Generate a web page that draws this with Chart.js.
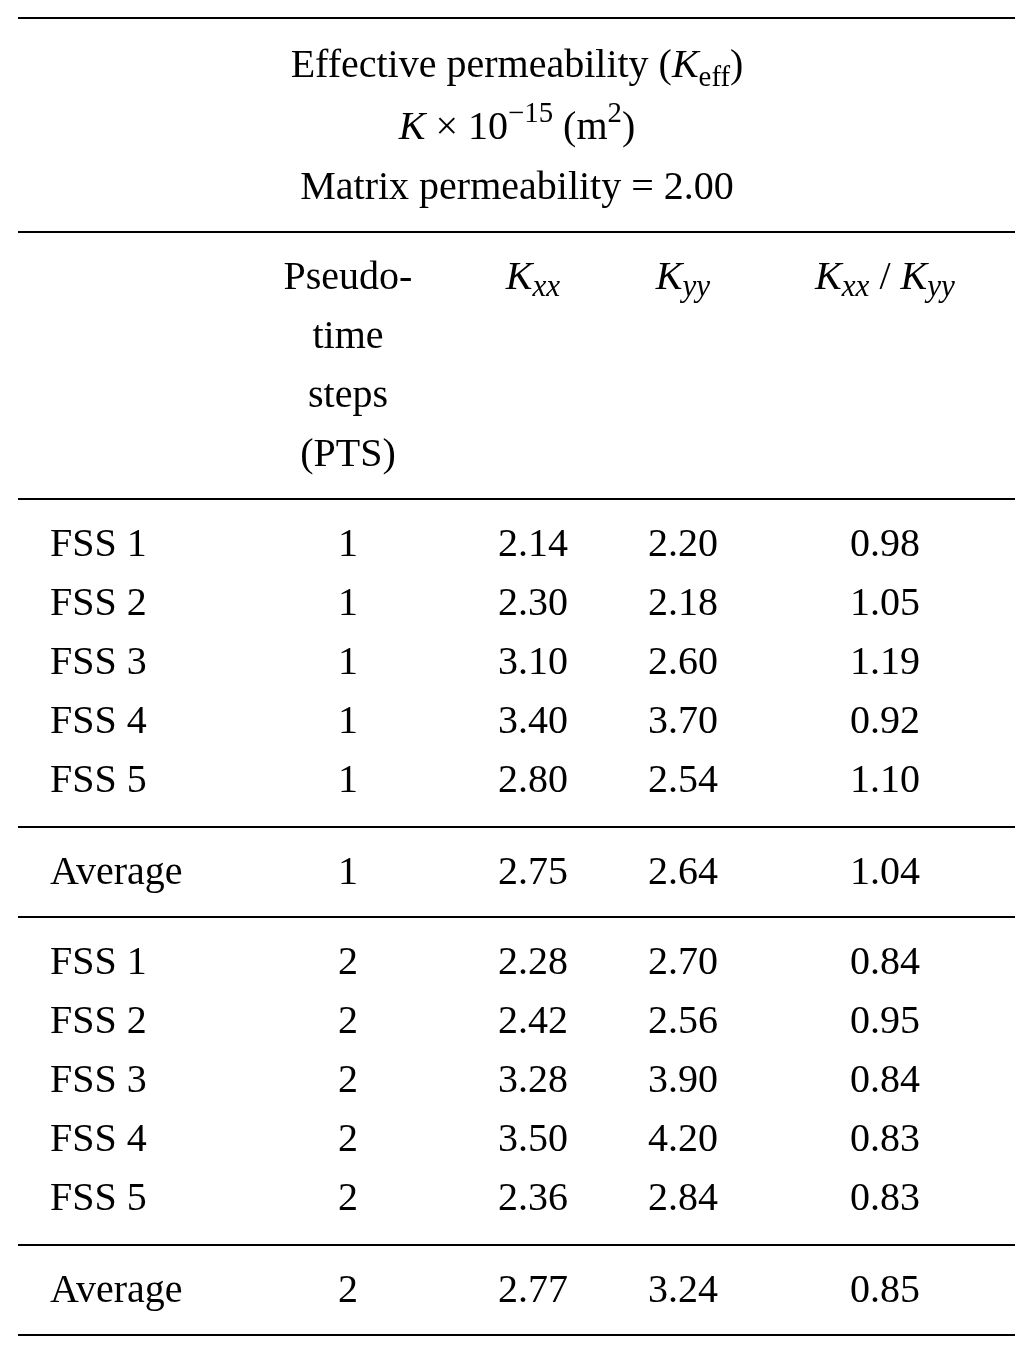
<!DOCTYPE html>
<html><head><meta charset="utf-8">
<script src="https://cdn.jsdelivr.net/npm/chart.js@4"></script>
<style>html,body{margin:0;padding:0;background:#fff}canvas{display:block}</style>
</head><body>
<canvas id="c" width="1033" height="1355"></canvas>
<script>
const rowLabels = ["FSS 1","FSS 2","FSS 3","FSS 4","FSS 5","Average","FSS 1","FSS 2","FSS 3","FSS 4","FSS 5","Average"];
const ptsValues = ["1","1","1","1","1","1","2","2","2","2","2","2"];
const kxxValues = ["2.14","2.30","3.10","3.40","2.80","2.75","2.28","2.42","3.28","3.50","2.36","2.77"];
const kyyValues = ["2.20","2.18","2.60","3.70","2.54","2.64","2.70","2.56","3.90","4.20","2.84","3.24"];
const ratioValues = ["0.98","1.05","1.19","0.92","1.10","1.04","0.84","0.95","0.84","0.83","0.83","0.85"];
const ptsHeader = ["Pseudo-","time","steps","(PTS)"];

const F = "'Liberation Serif','DejaVu Serif',serif";
const SZ = 40;
function fontFor(s){
  if(s==='i') return `italic ${SZ}px ${F}`;
  if(s==='isub') return `italic ${SZ*0.78}px ${F}`;
  if(s==='sub'||s==='sup') return `${SZ*0.72}px ${F}`;
  return `${SZ}px ${F}`;
}
function offFor(s){ return s==='sub'?9:(s==='isub'?7:(s==='sup'?-17:0)); }
function drawSegs(ctx, segs, x, y, align){
  let w=0; segs.forEach(([t,s])=>{ctx.font=fontFor(s); w+=ctx.measureText(t).width;});
  let cx = align==='center'? x-w/2 : x;
  segs.forEach(([t,s])=>{ctx.font=fontFor(s); ctx.textAlign='left'; ctx.fillText(t,cx,y+offFor(s)); cx+=ctx.measureText(t).width;});
}

const tablePlugin = {
  id:'table',
  afterDraw(chart){
    const ctx=chart.ctx, X=chart.scales.x, Y=chart.scales.y;
    const px=v=>X.getPixelForValue(v), py=v=>Y.getPixelForValue(v);
    ctx.save(); ctx.fillStyle='#000'; ctx.strokeStyle='#000'; ctx.lineWidth=2; ctx.textBaseline='alphabetic';
    [18,232,499,827,917,1245,1335].forEach(r=>{ctx.beginPath();ctx.moveTo(px(18),py(r));ctx.lineTo(px(1015),py(r));ctx.stroke();});
    const mid=517, base=14;
    drawSegs(ctx,[["Effective permeability (","r"],["K","i"],["eff","sub"],[")","r"]],px(mid),py(63+base),'center');
    drawSegs(ctx,[["K","i"],[" × 10","r"],["−15","sup"],[" (m","r"],["2","sup"],[")","r"]],px(mid),py(125+base),'center');
    drawSegs(ctx,[["Matrix permeability = 2.00","r"]],px(mid),py(185+base),'center');
    const cPts=348,cKxx=533,cKyy=683,cR=885,cL=50;
    ptsHeader.forEach((t,i)=>drawSegs(ctx,[[t,"r"]],px(cPts),py(275+i*59+base),'center'));
    drawSegs(ctx,[["K","i"],["xx","isub"]],px(cKxx),py(275+base),'center');
    drawSegs(ctx,[["K","i"],["yy","isub"]],px(cKyy),py(275+base),'center');
    drawSegs(ctx,[["K","i"],["xx","isub"],[" / ","r"],["K","i"],["yy","isub"]],px(cR),py(275+base),'center');
    const rowY=[542,601,660,719,778,870,960,1019,1078,1137,1196,1288];
    rowLabels.forEach((lab,i)=>{
      const y=py(rowY[i]+base);
      drawSegs(ctx,[[lab,"r"]],px(cL),y,'left');
      drawSegs(ctx,[[ptsValues[i],"r"]],px(cPts),y,'center');
      drawSegs(ctx,[[kxxValues[i],"r"]],px(cKxx),y,'center');
      drawSegs(ctx,[[kyyValues[i],"r"]],px(cKyy),y,'center');
      drawSegs(ctx,[[ratioValues[i],"r"]],px(cR),y,'center');
    });
    ctx.restore();
  }
};
new Chart(document.getElementById('c'),{
  type:'scatter',
  data:{datasets:[{data:[]}]},
  options:{responsive:false,animation:false,devicePixelRatio:1,
    layout:{padding:0},
    plugins:{legend:{display:false},tooltip:{enabled:false}},
    scales:{x:{type:'linear',min:0,max:1033,display:false},y:{type:'linear',min:0,max:1355,reverse:true,display:false}}},
  plugins:[tablePlugin]
});
</script>
</body></html>
